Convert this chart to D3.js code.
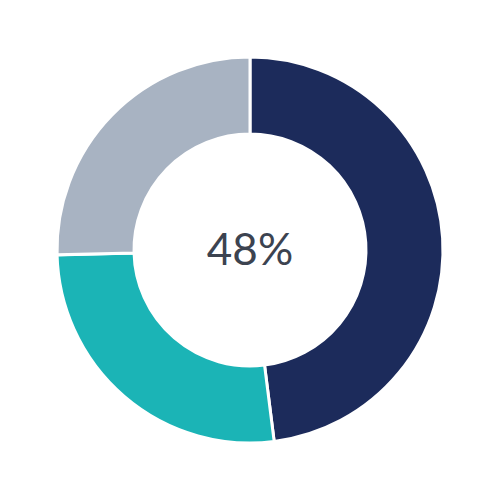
<!DOCTYPE html>
<html><head><meta charset="utf-8">
<script src="https://cdn.jsdelivr.net/npm/d3@7"></script>
<style>html,body{margin:0;padding:0;background:#fff;}</style>
</head><body>
<svg id="c" width="500" height="500"></svg>
<script>
const categories = ["A", "B", "C"];
const values = [48, 26.6, 25.4];
const colors = ["#1c2b5b", "#1bb4b6", "#a8b3c2"];
const centerLabel = "48%";

const svg = d3.select("#c");
const g = svg.append("g").attr("transform", "translate(250,250)");
const pie = d3.pie().sort(null).value(d => d.v);
const arc = d3.arc().innerRadius(116).outerRadius(193);
const data = categories.map((c, i) => ({c, v: values[i], col: colors[i]}));
g.selectAll("path").data(pie(data)).join("path")
  .attr("d", arc).attr("fill", d => d.data.col)
  .attr("stroke", "#fff").attr("stroke-width", 3);
g.append("text").attr("text-anchor", "middle").attr("y", 15)
  .attr("font-family", "Lato, 'Open Sans', sans-serif").attr("font-size", 44)
  .attr("fill", "#3c4350").text(centerLabel);
</script>
</body></html>
